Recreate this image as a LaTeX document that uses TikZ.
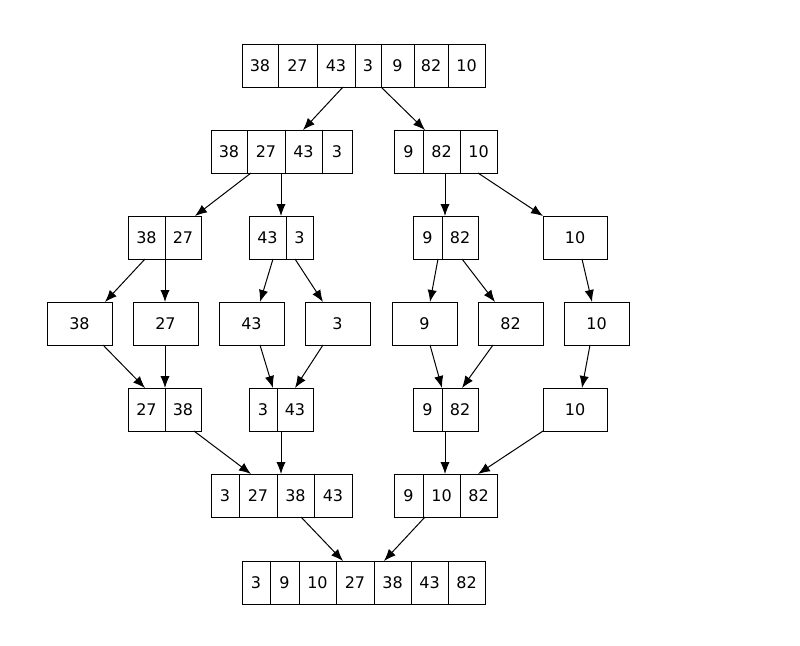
\documentclass[tikz,border=0pt]{standalone}
\usepackage{fontspec}
\setmainfont{DejaVu Sans}
\usetikzlibrary{arrows.meta}
\begin{document}
\begin{tikzpicture}[x=0.75pt,y=-0.75pt,line width=0.75pt,
  box/.style={draw=none,inner sep=0pt},
  arr/.style={-{Latex[length=9pt,width=7pt]}}]
\useasboundingbox (0,0) rectangle (800,646);
\newcommand\cellrow[3]{% name, y-top, list x0/x1/label
  \foreach \a/\b/\t in {#3}{
    \draw (\a,#2) rectangle (\b,#2+43);
    \node[font=\fontsize{12}{14}\selectfont] at ({(\a+\b)/2},#2+21.5) {\t};
  }}
\newcommand\bx[4]{% name, x0, x1, ytop
  \node[box] (#1) at ({(#2+#3)/2},#4+21.5) {};
  \coordinate (#1-s) at ({(#2+#3)/2},#4+43);
  \coordinate (#1-n) at ({(#2+#3)/2},#4);}
% rows
\cellrow{r1}{44}{242/278/38,278/317/27,317/355/43,355/381/3,381/414/9,414/448/82,448/485/10}
\bx{r1}{242}{485}{44}
\cellrow{r2L}{130}{211/247/38,247/285/27,285/322/43,322/352/3}\bx{r2L}{211}{352}{130}
\cellrow{r2R}{130}{394/423/9,423/460/82,460/497/10}\bx{r2R}{394}{497}{130}
\cellrow{r3a}{216}{128/165/38,165/201/27}\bx{r3a}{128}{201}{216}
\cellrow{r3b}{216}{249/286/43,286/313/3}\bx{r3b}{249}{313}{216}
\cellrow{r3c}{216}{413/442/9,442/478/82}\bx{r3c}{413}{478}{216}
\cellrow{r3d}{216}{543/607/10}\bx{r3d}{543}{607}{216}
\cellrow{r4a}{302}{47/112/38}\bx{r4a}{47}{112}{302}
\cellrow{r4b}{302}{133/198/27}\bx{r4b}{133}{198}{302}
\cellrow{r4c}{302}{219/284/43}\bx{r4c}{219}{284}{302}
\cellrow{r4d}{302}{305/370/3}\bx{r4d}{305}{370}{302}
\cellrow{r4e}{302}{392/457/9}\bx{r4e}{392}{457}{302}
\cellrow{r4f}{302}{478/543/82}\bx{r4f}{478}{543}{302}
\cellrow{r4g}{302}{564/629/10}\bx{r4g}{564}{629}{302}
\cellrow{r5a}{388}{128/165/27,165/201/38}\bx{r5a}{128}{201}{388}
\cellrow{r5b}{388}{249/277/3,277/313/43}\bx{r5b}{249}{313}{388}
\cellrow{r5c}{388}{413/442/9,442/478/82}\bx{r5c}{413}{478}{388}
\cellrow{r5d}{388}{543/607/10}\bx{r5d}{543}{607}{388}
\cellrow{r6L}{474}{211/239/3,239/277/27,277/314/38,314/352/43}\bx{r6L}{211}{352}{474}
\cellrow{r6R}{474}{394/423/9,423/460/10,460/497/82}\bx{r6R}{394}{497}{474}
\cellrow{r7}{561}{242/270/3,270/299/9,299/336/10,336/374/27,374/411/38,411/448/43,448/485/82}
\bx{r7}{242}{485}{561}
% edges
\foreach \A/\xa/\B/\xb in {r1/343/r2L/303, r1/381/r2R/425,
  r2L/251/r3a/195, r2L/281/r3b/281, r2R/445/r3c/445, r2R/478/r3d/543,
  r3a/145/r4a/105, r3a/165/r4b/165, r3b/273/r4c/260, r3b/295/r4d/323,
  r3c/438/r4e/430, r3c/462/r4f/495, r3d/582/r4g/592,
  r4a/103/r5a/145, r4b/165/r5a/165, r4c/260/r5b/273, r4d/323/r5b/295,
  r4e/430/r5c/442, r4f/493/r5c/462, r4g/590/r5d/582,
  r5a/194/r6L/251, r5b/281/r6L/281, r5c/445/r6R/445, r5d/543/r6R/478,
  r6L/301/r7/343, r6R/425/r7/384}
  \draw[arr] (\A-s -| \xa,0) -- (\B-n -| \xb,0);
\end{tikzpicture}
\end{document}
